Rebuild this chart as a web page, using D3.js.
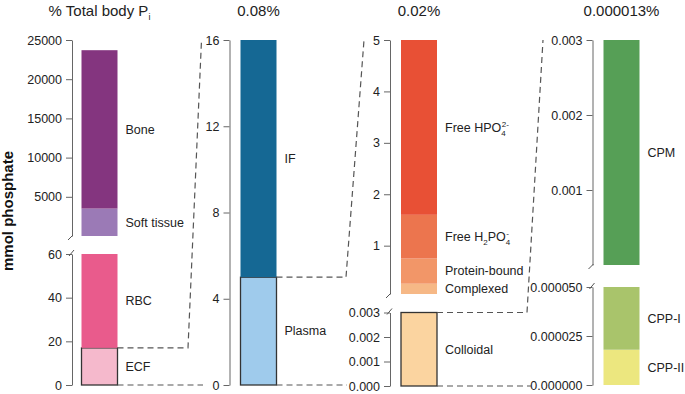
<!DOCTYPE html>
<html>
<head>
<meta charset="utf-8">
<script src="https://cdn.jsdelivr.net/npm/d3@7"></script>
<style>
	body { margin: 0; background: #fff; }
	svg { font-family: "Liberation Sans", Arial, Helvetica, sans-serif; display: block; }
	.axis path, .axis line { stroke: #666; }
	.axis text { fill: #222; font-size: 12.5px; }
	.seg-label { fill: #222; font-size: 12.5px; }
	.title { fill: #222; font-size: 15px; }
	.link { fill: none; stroke: #555; stroke-width: 1.2; stroke-dasharray: 6,4; }
</style>
</head>
<body>
<script>
// panel titles
const titles = ["% Total body P", "0.08%", "0.02%", "0.000013%"];

// panel 1: whole body (mmol), upper and lower pieces of the broken axis
const bodyUpperNames = ["Soft tissue", "Bone"];
const bodyUpperValues = [3500, 20200];
const bodyLowerNames = ["ECF", "RBC"];
const bodyLowerValues = [17, 43];
const bodyUpperTicks = [5000, 10000, 15000, 20000, 25000];
const bodyLowerTicks = [0, 20, 40, 60];

// panel 2: extracellular fluid
const ecfNames = ["Plasma", "IF"];
const ecfValues = [5, 11];
const ecfTicks = [0, 4, 8, 12, 16];

// panel 3: plasma
const plasmaUpperNames = ["Complexed", "Protein-bound", "H2PO4", "HPO4"];
const plasmaUpperValues = [0.26, 0.49, 0.85, 3.4];
const plasmaLowerNames = ["Colloidal"];
const plasmaLowerValues = [0.003];
const plasmaUpperTicks = [1, 2, 3, 4, 5];
const plasmaLowerTicks = [0, 0.001, 0.002, 0.003];

// panel 4: colloidal
const colloidUpperNames = ["CPM"];
const colloidUpperValues = [0.003];
const colloidLowerNames = ["CPP-II", "CPP-I"];
const colloidLowerValues = [0.000018, 0.000032];
const colloidUpperTicks = [0.001, 0.002, 0.003];
const colloidLowerTicks = [0, 0.000025, 0.00005];

const colors = {
	"Bone": "#84357f", "Soft tissue": "#9b7ab6", "RBC": "#e95b8c", "ECF": "#f5b9cc",
	"IF": "#156894", "Plasma": "#9fcbec",
	"HPO4": "#e85035", "H2PO4": "#ec754e", "Protein-bound": "#f29668", "Complexed": "#f6b886",
	"Colloidal": "#fbd4a0",
	"CPM": "#569f56", "CPP-I": "#a9c46b", "CPP-II": "#ece77f"
};
const outlined = new Set(["ECF", "Plasma", "Colloidal"]);

const width = 685, height = 394;
const barW = 36;

const svg = d3.select("body").append("svg")
	.attr("width", width)
	.attr("height", height);

function stack(names, values) {
	let acc = 0;
	return names.map((n, i) => {
		let d = { name: n, lo: acc, hi: acc + values[i] };
		acc += values[i];
		return d;
	});
}

// each panel: axis x, bar x, and one or two pieces (with their own scale)
const panels = [
	{
		title: titles[0], axisX: 72, barX: 81.5,
		pieces: [
			{ data: stack(bodyUpperNames, bodyUpperValues), domain: [0, 25000], range: [236, 40], ticks: bodyUpperTicks, fmt: d3.format("d"), breakBottom: true },
			{ data: stack(bodyLowerNames, bodyLowerValues), domain: [0, 60], range: [385, 254], ticks: bodyLowerTicks, fmt: d3.format("d"), breakTop: true }
		]
	},
	{
		title: titles[1], axisX: 229.5, barX: 240.5,
		pieces: [
			{ data: stack(ecfNames, ecfValues), domain: [0, 16], range: [385, 40], ticks: ecfTicks, fmt: d3.format("d") }
		]
	},
	{
		title: titles[2], axisX: 390, barX: 401,
		pieces: [
			{ data: stack(plasmaUpperNames, plasmaUpperValues), domain: [0.06, 5], range: [294, 40], ticks: plasmaUpperTicks, fmt: d3.format("d"), breakBottom: true },
			{ data: stack(plasmaLowerNames, plasmaLowerValues), domain: [0, 0.003], range: [386, 312.5], ticks: plasmaLowerTicks, fmt: d3.format(".3f"), breakTop: true }
		]
	},
	{
		title: titles[3], axisX: 592.5, barX: 603.5,
		pieces: [
			{ data: stack(colloidUpperNames, colloidUpperValues), domain: [0, 0.003], range: [265, 40], ticks: colloidUpperTicks, fmt: d3.format(".3f"), breakBottom: true },
			{ data: stack(colloidLowerNames, colloidLowerValues), domain: [0, 0.00005], range: [385, 287], ticks: colloidLowerTicks, fmt: d3.format(".6f"), breakTop: true }
		]
	}
];

function writeLabel(text, name) {
	if (name === "HPO4") {
		text.append("tspan").text("Free HPO");
		text.append("tspan").attr("font-size", "8px").attr("dy", 4).text("4");
		text.append("tspan").attr("font-size", "8px").attr("dy", -9).attr("dx", -4).text("2-");
	} else if (name === "H2PO4") {
		text.append("tspan").text("Free H");
		text.append("tspan").attr("font-size", "8px").attr("dy", 4).text("2");
		text.append("tspan").attr("dy", -4).text("PO");
		text.append("tspan").attr("font-size", "8px").attr("dy", 4).text("4");
		text.append("tspan").attr("font-size", "8px").attr("dy", -9).attr("dx", -4).text("-");
	} else {
		text.text(name);
	}
}

panels.forEach(p => {
	let g = svg.append("g").attr("class", "panel");

	g.append("text")
		.attr("class", "title")
		.attr("x", p.barX + barW / 2)
		.attr("y", 16)
		.attr("text-anchor", "middle")
		.text(p.title);

	p.pieces.forEach(piece => {
		piece.y = d3.scaleLinear().domain(piece.domain).range(piece.range).clamp(true);

		g.append("g")
			.attr("class", "axis")
			.attr("transform", `translate(${p.axisX},0)`)
			.call(d3.axisLeft(piece.y).tickValues(piece.ticks).tickFormat(piece.fmt).tickSize(6).tickSizeOuter(0))
			.call(a => a.selectAll("text").attr("dx", -1));

		g.selectAll(null)
			.data(piece.data)
			.join("rect")
			.attr("x", p.barX)
			.attr("width", barW)
			.attr("y", d => piece.y(d.hi))
			.attr("height", d => piece.y(d.lo) - piece.y(d.hi))
			.attr("fill", d => colors[d.name])
			.attr("stroke", d => outlined.has(d.name) ? "#333" : "none")
			.attr("stroke-width", 1.3);

		g.selectAll(null)
			.data(piece.data)
			.join("text")
			.attr("class", "seg-label")
			.attr("x", p.barX + barW + 8)
			.attr("y", d => (piece.y(d.lo) + piece.y(d.hi)) / 2)
			.attr("dy", "0.35em")
			.each(function(d) { writeLabel(d3.select(this), d.name); });

		// axis break marks
		if (piece.breakBottom) {
			let yb = piece.range[0];
			g.append("line").attr("x1", p.axisX - 4).attr("y1", yb + 4).attr("x2", p.axisX + 1).attr("y2", yb - 1).attr("stroke", "#555");
		}
		if (piece.breakTop) {
			let yt = piece.range[1];
			g.append("line").attr("x1", p.axisX - 3).attr("y1", yt + 2).attr("x2", p.axisX + 2).attr("y2", yt - 4).attr("stroke", "#555");
		}
	});
});

// subscript i in first title
svg.select(".title")
	.append("tspan").attr("font-size", "9px").attr("dy", 4).text("i");

// dashed zoom connectors between panels
const links = [
	{ from: panels[0], piece: panels[0].pieces[1], value: 17, bendX: 188, topX: 201.5, bottomX: 203 },
	{ from: panels[1], piece: panels[1].pieces[0], value: 5, bendX: 346, topX: 364, bottomX: 347 },
	{ from: panels[2], piece: panels[2].pieces[1], value: 0.003, bendX: 527, topX: 543, bottomX: 531 }
];

links.forEach(l => {
	let x0 = l.from.barX + barW;
	let yTop = l.piece.y(l.value);
	let yBottom = l.piece.y(0);
	svg.append("path")
		.attr("class", "link")
		.attr("d", d3.line()([[x0, yTop], [l.bendX, yTop], [l.topX, 40]]));
	svg.append("path")
		.attr("class", "link")
		.attr("d", d3.line()([[x0, yBottom], [l.bottomX, yBottom]]));
});

svg.append("text")
	.attr("transform", "translate(13,211) rotate(-90)")
	.attr("text-anchor", "middle")
	.attr("font-weight", "bold")
	.attr("font-size", "15px")
	.attr("fill", "#111")
	.text("mmol phosphate");
</script>
</body>
</html>
